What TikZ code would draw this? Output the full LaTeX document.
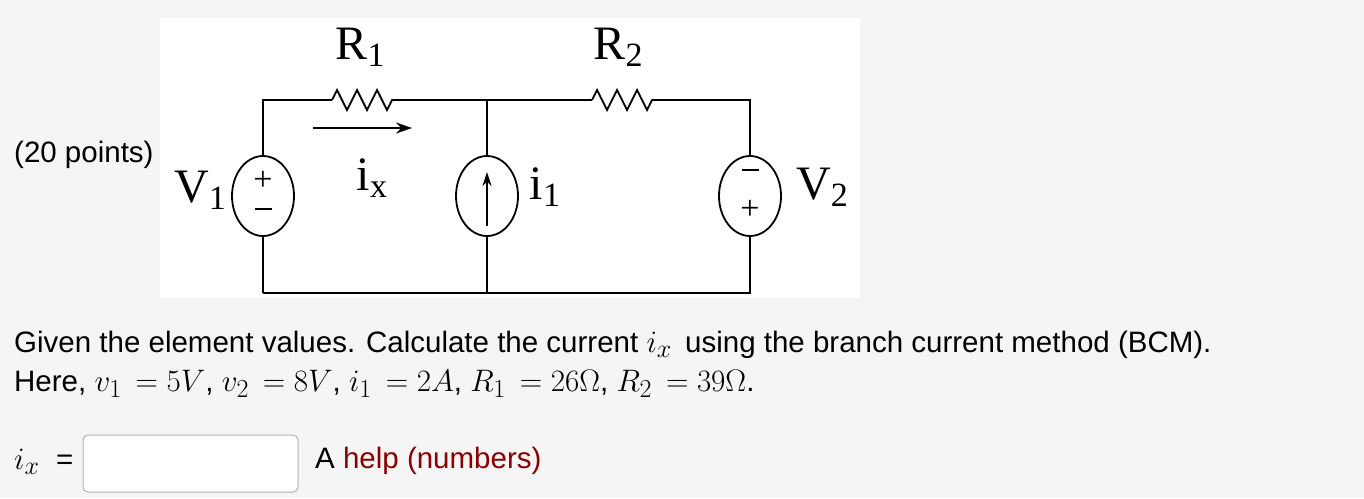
\documentclass[tikz,border=0pt]{standalone}
\usepackage{fontspec}
\usepackage{graphicx}
\setmainfont{Liberation Sans}
\newfontfamily\circfont{Liberation Serif}
\usetikzlibrary{decorations.pathmorphing,arrows.meta,shapes.geometric}
\definecolor{bg}{HTML}{F5F5F5}
\definecolor{helpred}{HTML}{8B0000}
\tikzset{wire/.style={line width=1.8pt},
 res/.style={wire,decorate,decoration={zigzag,segment length=20pt,amplitude=10pt}},
 src/.style={draw,line width=1.8pt,ellipse,minimum width=62pt,minimum height=80pt,inner sep=0pt,fill=white},
 clab/.style={font=\circfont\fontsize{48}{48}\selectfont,inner sep=0pt},
 sgn/.style={font=\circfont\fontsize{34}{34}\selectfont,inner sep=0pt},
 txt/.style={font=\fontsize{29.5}{33}\selectfont,anchor=west,inner sep=0pt}}
\newcommand{\csub}[1]{\raisebox{-0.15em}{\fontsize{34}{34}\selectfont #1}}
\newcommand{\mth}[1]{\scalebox{1.25}{$#1$}}
\begin{document}
\begin{tikzpicture}[x=1pt,y=-1pt]
\fill[bg] (0,0) rectangle (1364,498);
\useasboundingbox (0,0) rectangle (1364,498);
\fill[white] (160,18) rectangle (860,298);
\coordinate (tl) at (263,100); \coordinate (tm) at (487,100); \coordinate (tr) at (750,100);
\coordinate (bl) at (263,293); \coordinate (bm) at (487,293); \coordinate (br) at (750,293);
\coordinate (r1a) at (332,100); \coordinate (r1b) at (394,100);
\coordinate (r2a) at (592,100); \coordinate (r2b) at (654,100);
\draw[wire] (bl) -- (tl) -- (r1a);
\draw[res] (r1a) -- (r1b);
\draw[wire] (r1b) -- (r2a);
\draw[res] (r2a) -- (r2b);
\draw[wire] (r2b) -- (tr) -- (br) -- (bl);
\draw[wire] (tm) -- (bm);
\node[src] (v1) at (263,196) {};
\node[src] (is) at (487,196) {};
\node[src] (v2) at (750,196) {};
\node[sgn] at (263,181) {+};
\node[sgn] at (263,213) {\rule[0.25em]{0.5em}{1.6pt}};
\node[sgn] at (750,174) {\rule[0.25em]{0.5em}{1.6pt}};
\node[sgn] at (750,210) {+};
\coordinate (ia) at (487,226); \coordinate (ib) at (487,172);
\draw[line width=1.8pt,-{Stealth[length=14pt,width=9pt]}] (ia) -- (ib);
\coordinate (xa) at (313,128); \coordinate (xb) at (412,128);
\draw[line width=2pt,-{Stealth[length=16pt,width=11pt]}] (xa) -- (xb);
\node[clab] (lr1) at (360,47) {R\csub{1}};
\node[clab] (lr2) at (618,47) {R\csub{2}};
\node[clab] (lv1) at (200,190) {V\csub{1}};
\node[clab] (lix) at (372,178) {i\csub{x}};
\node[clab] (li1) at (545,187) {i\csub{1}};
\node[clab] (lv2) at (822,187) {V\csub{2}};
\node[txt] (pts) at (14,155) {(20 points)};
\node[txt] (l1) at (14,345) {Given the element values. Calculate the current \mth{i_x} \,using the branch current method (BCM).};
\node[txt] (l2) at (14,384) {Here, \mth{v_1\,=5V}, \mth{v_2\,=8V}, \mth{i_1\,=2A}, \mth{R_1\,=26\Omega}, \mth{R_2\,=39\Omega}.};
\node[txt] (l3) at (14,462) {\mth{i_x} \ =};
\draw[rounded corners=5pt,draw=gray!60,fill=white,line width=1pt] (83,435) rectangle (298,492);
\node[txt] (l4) at (315,461) {A \textcolor{helpred}{help (numbers)}};
\end{tikzpicture}
\end{document}
